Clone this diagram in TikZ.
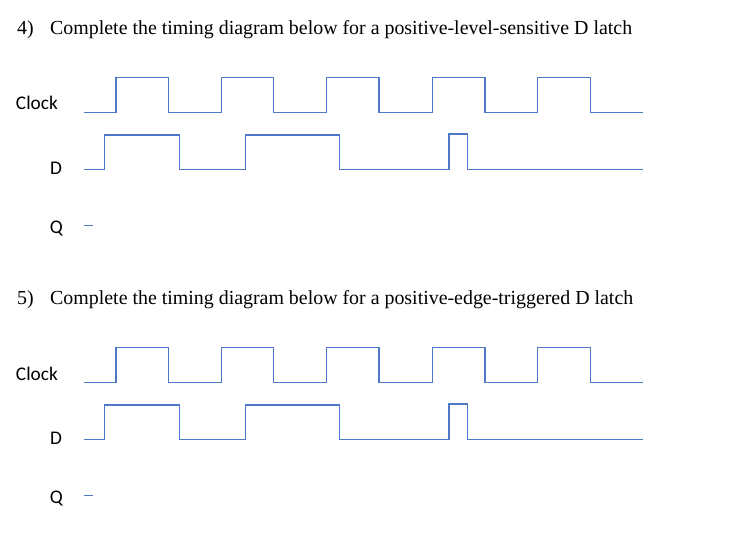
\documentclass[tikz,border=0pt]{standalone}
\usepackage{fontspec}
\setmainfont{Liberation Serif}
\newfontfamily\labelfont{Carlito}
\definecolor{wavecolor}{RGB}{79,120,200}
\begin{document}
\begin{tikzpicture}[x=1pt,y=-1pt,
  wave/.style={draw=wavecolor, line width=1.1pt},
  siglabel/.style={anchor=base east, inner sep=0pt, font=\labelfont\fontsize{19.3}{22}\selectfont},
  question/.style={anchor=base west, inner sep=0pt, font=\fontsize{19.9}{23}\selectfont}]
 \useasboundingbox (0,0) rectangle (745,535);

 \foreach \num/\off/\kind in {4/0/positive-level-sensitive, 5/270/positive-edge-triggered}
 {
 \begin{scope}[yshift=-\off pt]
  %Question
  \node (num\num) [question] at (17,34.5) {\num)};
  \node (title\num) [question] at (50,34.5) {Complete the timing diagram below for a \kind\ D latch};

  %Labels
  \node (clock\num) [siglabel] at (58,110) {Clock};
  \node (d\num) [siglabel] at (62.3,174.3) {D};
  \node (q\num) [siglabel] at (63,233.5) {Q};

  %Clock
  \draw[wave] (84,112.3)
    \foreach \r/\f in {116/168.3, 221.7/273.3, 326.7/379, 432.3/485, 537.7/590.7}
    { -- (\r,112.3) -- (\r,77.3) -- (\f,77.3) -- (\f,112.3) }
    -- (643.3,112.3);

  %D
  \draw[wave] (84,169.3) -- (104.3,169.3) -- (104.3,135) -- (179.3,135)
    -- (179.3,169.3) -- (245.7,169.3) -- (245.7,135) -- (339.3,135)
    -- (339.3,169.3) -- (449,169.3) -- (449,134) -- (467.7,134)
    -- (467.7,169.3) -- (643.3,169.3);

  %Q
  \draw[wave] (84,225.7) -- (93.3,225.7);
 \end{scope}
 }
\end{tikzpicture}
\end{document}
